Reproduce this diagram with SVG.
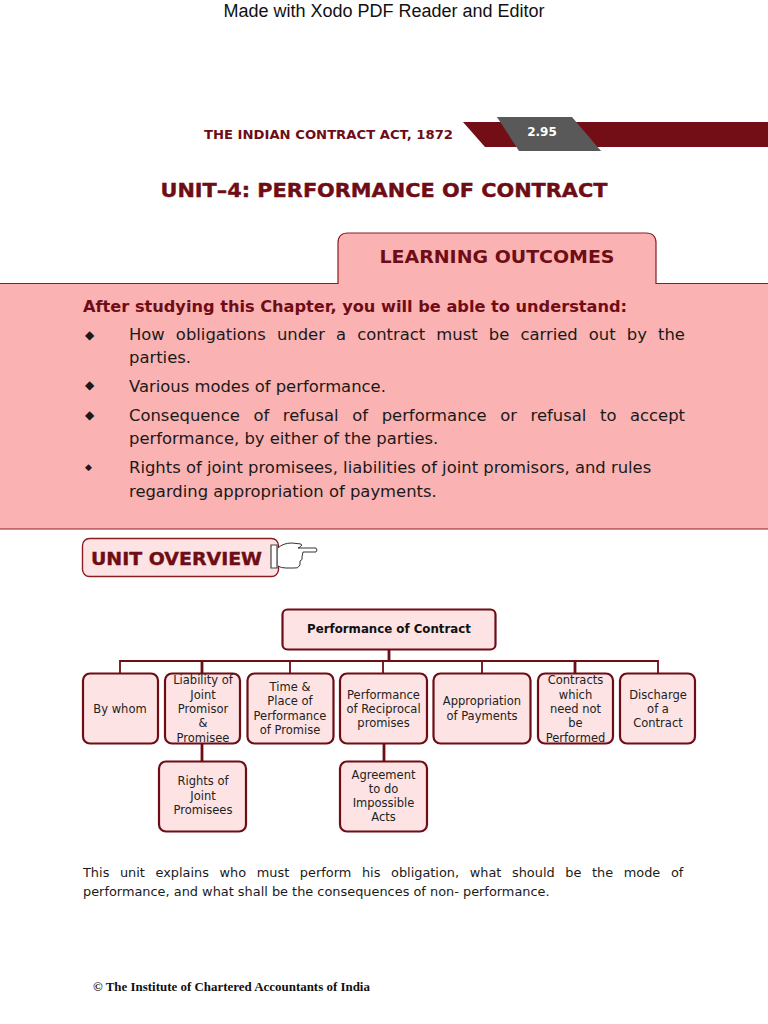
<svg xmlns="http://www.w3.org/2000/svg" width="768" height="1024" viewBox="0 0 768 1024">
<style>
.h{font-family:"DejaVu Sans",sans-serif;font-weight:700;fill:#6e0d15}
.heavy{stroke:#6e0d15;stroke-width:.4}
.b{font-family:"DejaVu Sans",sans-serif;fill:#1a1a1a}
.n{font-family:"DejaVu Sans",sans-serif;font-size:11.5px;fill:#222;text-anchor:middle}
.box{fill:#fde3e3;stroke:#6e0d15;stroke-width:2.2}
.conn{fill:none;stroke:#6e0d15;stroke-width:1.8}
.thick{fill:none;stroke:#6e0d15;stroke-width:2.8}
</style>
<rect width="768" height="1024" fill="#fff"/>
<text x="384" y="17" text-anchor="middle" font-family="Liberation Sans, sans-serif" font-size="18" fill="#111">Made with Xodo PDF Reader and Editor</text>
<g id="header">
<text class="h" x="204" y="139" font-size="12.5" textLength="249" lengthAdjust="spacingAndGlyphs">THE INDIAN CONTRACT ACT, 1872</text>
<polygon points="497,117 532,117 602,151 519,151" fill="#d0d0d0"/>
<polygon points="463,122 768,122 768,147 485,147" fill="#730e16"/>
<polygon points="497,117 572,117 601,151 519,151" fill="#595959"/>
<text x="542" y="136" text-anchor="middle" font-family="DejaVu Sans, sans-serif" font-weight="700" font-size="12" fill="#fff">2.95</text>
</g>
<text class="h heavy" x="384" y="197" text-anchor="middle" font-size="20" textLength="447" lengthAdjust="spacingAndGlyphs">UNIT–4: PERFORMANCE OF CONTRACT</text>
<g id="learning-outcomes">
<path d="M0 283.500H338V243Q338 233 348 233H646Q656 233 656 243V283.500H768V529H0Z" fill="#fab2b2"/>
<path d="M0 283.500H338V243Q338 233 348 233H646Q656 233 656 243V283.500H768M0 529H768" fill="none" stroke="#8a1c24" stroke-width="1.200"/>
<text class="h" x="497" y="263" text-anchor="middle" font-size="17" textLength="235" lengthAdjust="spacingAndGlyphs">LEARNING OUTCOMES</text>
<text class="h" x="83" y="312" font-size="15.500" fill="#5e0a12" textLength="544" lengthAdjust="spacingAndGlyphs">After studying this Chapter, you will be able to understand:</text>
<g class="b" font-size="16.400">
<text x="85" y="339" font-size="12">◆</text>
<text x="129" y="340" word-spacing="5.900">How obligations under a contract must be carried out by the</text>
<text x="129" y="363">parties.</text>
<text x="85" y="389" font-size="12">◆</text>
<text x="129" y="392">Various modes of performance.</text>
<text x="85" y="419" font-size="12">◆</text>
<text x="129" y="421" word-spacing="8.400">Consequence of refusal of performance or refusal to accept</text>
<text x="129" y="444">performance, by either of the parties.</text>
<text x="85" y="470" font-size="9">◆</text>
<text x="129" y="473">Rights of joint promisees, liabilities of joint promisors, and rules</text>
<text x="129" y="497">regarding appropriation of payments.</text>
</g>
</g>
<g id="unit-overview">
<rect x="82.500" y="538.500" width="196" height="38" rx="7" fill="#fde3e3" stroke="#8a1c24" stroke-width="1.400"/>
<text class="h heavy" x="91" y="565" font-size="18" textLength="171" lengthAdjust="spacingAndGlyphs">UNIT OVERVIEW</text>
<path d="M271 545H277V568H271Z" fill="#fff" stroke="#444" stroke-width="1.200"/>
<path d="M278 548Q283 543 292 543L301 544Q303 546 298 548H316Q318 550 316 552H303L302 557Q303 560 300 561V565Q298 569 294 568H286Q281 568 278 566" fill="#fff" stroke="#333" stroke-width="1"/>
</g>
<g id="connectors">
<path class="conn" d="M120 673V661H658V673M290 661V673M383 661V673M482 661V673"/>
<path class="thick" d="M389 649V661M202 661V673M575 661V673M202 744V761M384 744V761"/>
</g>
<g id="n-root"><rect class="box" x="282.500" y="609.500" width="213" height="40" rx="5"/><text x="389" y="633" text-anchor="middle" font-family="DejaVu Sans, sans-serif" font-weight="700" font-size="11.800" fill="#111">Performance of Contract</text></g>
<g id="n-whom"><rect class="box" x="83" y="673.500" width="75" height="70" rx="7"/><text class="n" x="120" y="713">By whom</text></g>
<g id="n-liability"><rect class="box" x="165" y="673.500" width="75" height="70" rx="7"/><text class="n" x="203" y="684">Liability of</text><text class="n" x="203" y="699">Joint</text><text class="n" x="203" y="713">Promisor</text><text class="n" x="203" y="727">&amp;</text><text class="n" x="203" y="742">Promisee</text></g>
<g id="n-time"><rect class="box" x="247.500" y="673.500" width="86" height="70" rx="7"/><text class="n" x="290" y="691">Time &amp;</text><text class="n" x="290" y="705">Place of</text><text class="n" x="290" y="720">Performance</text><text class="n" x="290" y="734">of Promise</text></g>
<g id="n-reciprocal"><rect class="box" x="340" y="673.500" width="87" height="70" rx="7"/><text class="n" x="383.500" y="699">Performance</text><text class="n" x="383.500" y="713">of Reciprocal</text><text class="n" x="383.500" y="727">promises</text></g>
<g id="n-appropriation"><rect class="box" x="433.500" y="673.500" width="97" height="70" rx="7"/><text class="n" x="482" y="705">Appropriation</text><text class="n" x="482" y="720">of Payments</text></g>
<g id="n-need-not"><rect class="box" x="538" y="673.500" width="75" height="70" rx="7"/><text class="n" x="575.500" y="684">Contracts</text><text class="n" x="575.500" y="699">which</text><text class="n" x="575.500" y="713">need not</text><text class="n" x="575.500" y="727">be</text><text class="n" x="575.500" y="742">Performed</text></g>
<g id="n-discharge"><rect class="box" x="620" y="673.500" width="75" height="70" rx="7"/><text class="n" x="658" y="699">Discharge</text><text class="n" x="658" y="713">of a</text><text class="n" x="658" y="727">Contract</text></g>
<g id="n-rights"><rect class="box" x="159" y="761.500" width="87" height="70" rx="7"/><text class="n" x="203" y="785">Rights of</text><text class="n" x="203" y="800">Joint</text><text class="n" x="203" y="814">Promisees</text></g>
<g id="n-impossible"><rect class="box" x="340" y="761.500" width="87" height="70" rx="7"/><text class="n" x="383.500" y="779">Agreement</text><text class="n" x="383.500" y="793">to do</text><text class="n" x="383.500" y="807">Impossible</text><text class="n" x="383.500" y="821">Acts</text></g>
<g class="b" font-size="12.900">
<text x="83" y="877" word-spacing="6.500">This unit explains who must perform his obligation, what should be the mode of</text>
<text x="83" y="896">performance, and what shall be the consequences of non- performance.</text>
</g>
<text x="93" y="991" font-family="Liberation Serif, serif" font-weight="700" font-size="12.950" fill="#111">© The Institute of Chartered Accountants of India</text>
</svg>
